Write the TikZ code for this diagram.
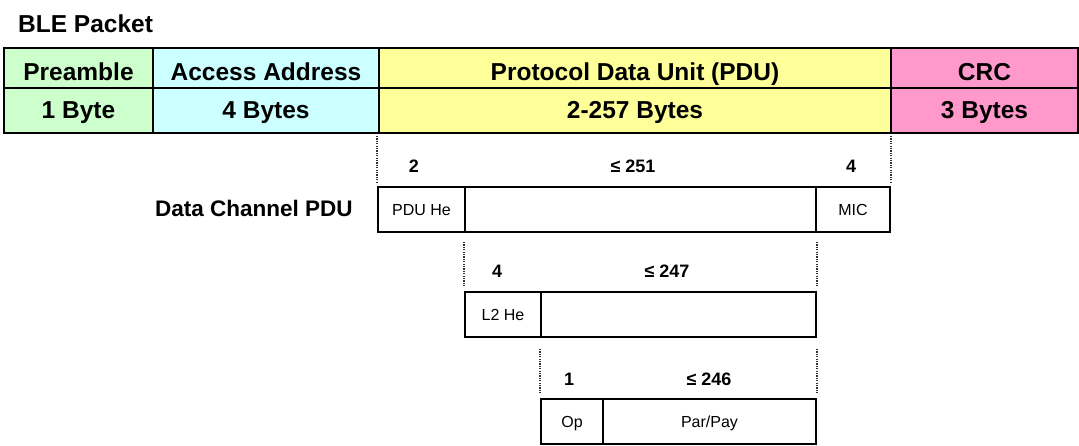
\documentclass[tikz,border=0pt]{standalone}
\usepackage{fontspec}
\setmainfont{Liberation Sans}
\definecolor{cgreen}{HTML}{CCFFCC}
\definecolor{ccyan}{HTML}{CCFFFF}
\definecolor{cyellow}{HTML}{FFFF99}
\definecolor{cpink}{HTML}{FF99CC}
\definecolor{dotgray}{HTML}{303030}
\begin{document}
\begin{tikzpicture}[x=1pt,y=-1pt,
  cell/.style={draw=black,line width=2pt,rectangle,inner sep=0pt,anchor=north west,
    font=\fontsize{24.5}{28}\selectfont\bfseries},
  toprow/.style={cell,minimum height=40pt,text height=26pt,text depth=0pt},
  botrow/.style={cell,minimum height=45pt,text height=22pt,text depth=6pt},
  sub/.style={draw=black,line width=2pt,rectangle,inner sep=0pt,anchor=north west,
    minimum height=45pt,text height=11.5pt,text depth=0pt,
    font=\fontsize{16}{18}\selectfont},
  num/.style={font=\fontsize{18}{20}\selectfont\bfseries,inner sep=0pt,anchor=base},
  title/.style={font=\fontsize{24.5}{28}\selectfont\bfseries,inner sep=0pt,anchor=base west},
  guide/.style={draw=dotgray,line width=2pt,dash pattern=on 1.2pt off 1.2pt}
]
\useasboundingbox[fill=white] (0,0) rectangle (1079,446);
\node[title] (ble) at (18,33) {BLE Packet};
% top table
\node[toprow,fill=cgreen,minimum width=149pt] (pre) at (3,47) {Preamble};
\node[toprow,fill=ccyan,minimum width=226pt] (acc) at (152,47) {Access Address};
\node[toprow,fill=cyellow,minimum width=512pt] (pdu) at (378,47) {Protocol Data Unit (PDU)};
\node[toprow,fill=cpink,minimum width=187pt] (crc) at (890,47) {CRC};
\node[botrow,fill=cgreen,minimum width=149pt] (preb) at (3,87) {1 Byte};
\node[botrow,fill=ccyan,minimum width=226pt] (accb) at (152,87) {4 Bytes};
\node[botrow,fill=cyellow,minimum width=512pt] (pdub) at (378,87) {2-257 Bytes};
\node[botrow,fill=cpink,minimum width=187pt] (crcb) at (890,87) {3 Bytes};
% data channel PDU
\node[title,font=\fontsize{22.5}{26}\selectfont\bfseries] (dcp) at (155,217) {Data Channel PDU};
\node[sub,minimum width=87pt] (pduhe) at (377,186) {PDU He};
\node[sub,minimum width=351pt] (pdupay) at (464,186) {};
\node[sub,minimum width=74pt] (mic) at (815,186) {MIC};
\node[num] (n2) at (414,173) {2};
\node[num] (n251) at (633,173) {≤ 251};
\node[num] (n4a) at (851,173) {4};
% L2
\node[sub,minimum width=76pt] (l2he) at (464,291) {L2 He};
\node[sub,minimum width=275pt] (l2pay) at (540,291) {};
\node[num] (n4b) at (497,278) {4};
\node[num] (n247) at (667,278) {≤ 247};
% Op
\node[sub,minimum width=62pt] (op) at (540,398) {Op};
\node[sub,minimum width=213pt] (par) at (602,398) {Par/Pay};
\node[num] (n1) at (569,385) {1};
\node[num] (n246) at (709,385) {≤ 246};
% dotted guides
\draw[guide] ([yshift=-2pt]pdub.south -| pduhe.west) -- ([yshift=4pt]pduhe.north west);
\draw[guide] ([yshift=-2pt]pdub.south -| mic.east) -- ([yshift=4pt]mic.north east);
\draw[guide] ([yshift=-9pt]pduhe.south -| l2he.west) -- ([yshift=5pt]l2he.north west);
\draw[guide] ([yshift=-9pt]mic.south -| l2pay.east) -- ([yshift=5pt]l2pay.north east);
\draw[guide] ([yshift=-11pt]l2he.south -| op.west) -- ([yshift=5pt]op.north west);
\draw[guide] ([yshift=-11pt]l2pay.south -| par.east) -- ([yshift=5pt]par.north east);
\end{tikzpicture}
\end{document}
